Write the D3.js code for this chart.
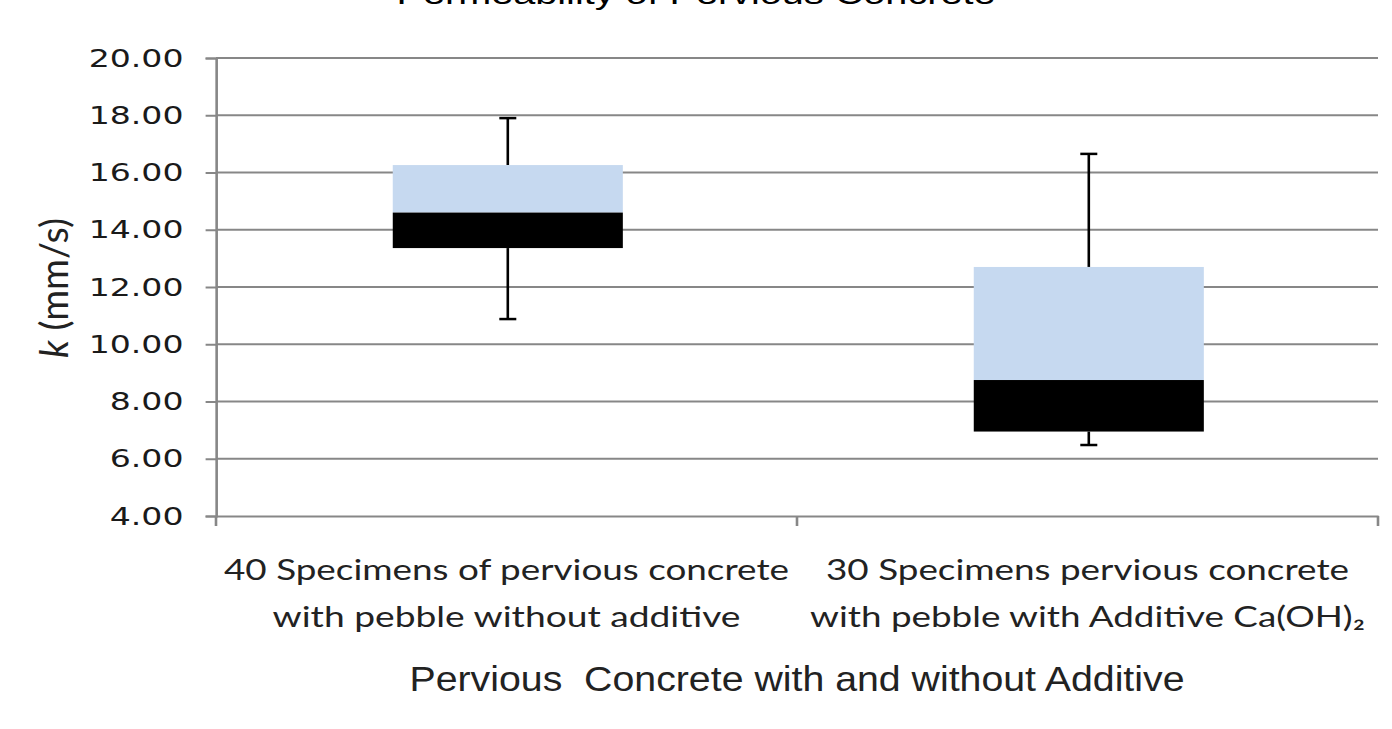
<!DOCTYPE html>
<html>
<head>
<meta charset="utf-8">
<script src="https://cdn.jsdelivr.net/npm/d3@7"></script>
<style>
  html, body { margin: 0; padding: 0; background: #fff; }
  svg { display: block; }
  text { white-space: pre; }
</style>
</head>
<body>
<div id="chart"></div>
<script>
// box plot values
const categories = ['c1', 'c2'];
const catLines = [
  ['40 Specimens of pervious concrete', 'with pebble without additive'],
  ['30 Specimens pervious concrete', 'with pebble with Additive Ca(OH)₂']
];
const minVals = [10.88, 6.48];
const q1Vals = [13.36, 6.95];
const medianVals = [14.6, 8.75];
const q3Vals = [16.26, 12.7];
const maxVals = [17.9, 16.65];
const yTicks = [4, 6, 8, 10, 12, 14, 16, 18, 20];

// the original is stretched sideways, so draw narrow and stretch the svg
const SX = 1.3;
const fullW = 1392, fullH = 729;
const W = fullW / SX;
const margin = { left: 216 / SX, right: W - 1378 / SX, top: 58, bottom: fullH - 516 };
const width = W - margin.left - margin.right;
const height = fullH - margin.top - margin.bottom;

// widths of the texts as seen in the original (screen px)
const catWidths = [[565, 468], [523, 555]];

const svg = d3.select('#chart').append('svg')
  .attr('width', fullW).attr('height', fullH)
  .attr('viewBox', `0 0 ${W} ${fullH}`)
  .attr('preserveAspectRatio', 'none');

// title, cut off at the top edge like the original
svg.append('text')
  .attr('x', 696 / SX).attr('y', 4)
  .attr('text-anchor', 'middle')
  .attr('font-family', 'Liberation Sans, Arial, sans-serif')
  .attr('font-size', 30)
  .attr('textLength', 599 / SX)
  .attr('lengthAdjust', 'spacingAndGlyphs')
  .attr('fill', '#000')
  .text('Permeability of Pervious Concrete');

const g = svg.append('g').attr('transform', `translate(${margin.left},${margin.top})`);

const x = d3.scaleBand().domain(categories).range([0, width]).paddingInner(0).paddingOuter(0);
const y = d3.scaleLinear().domain([4, 20]).range([height, 0]);

// gridlines
g.append('g').selectAll('line')
  .data(yTicks.filter(t => t > 4))
  .enter().append('line')
  .attr('x1', 0).attr('x2', width)
  .attr('y1', d => y(d)).attr('y2', d => y(d))
  .attr('stroke', '#878787').attr('stroke-width', 2);

// y axis
const yAxis = g.append('g')
  .call(d3.axisLeft(y).tickValues(yTicks).tickFormat(d3.format('.2f')).tickSize(8).tickPadding(17));
yAxis.selectAll('path, line').attr('stroke', '#878787').attr('stroke-width', 2);
yAxis.selectAll('text')
  .attr('font-family', 'DejaVu Sans, Verdana, sans-serif')
  .attr('font-size', 25.5)
  .attr('fill', '#1a1a1a');

// x axis
const xAxis = g.append('g').attr('transform', `translate(0,${height})`)
  .call(d3.axisBottom(x).tickSize(0).tickFormat(''));
xAxis.select('.domain').attr('stroke', '#878787').attr('stroke-width', 2);
xAxis.selectAll('.tick').remove();
xAxis.selectAll('.sep')
  .data([0, width / 2, width])
  .enter().append('line')
  .attr('x1', d => d).attr('x2', d => d)
  .attr('y1', 0).attr('y2', 10)
  .attr('stroke', '#878787').attr('stroke-width', 2);

// category labels
categories.forEach((c, i) => {
  catLines[i].forEach((line, j) => {
    g.append('text')
      .attr('x', x(c) + x.bandwidth() / 2)
      .attr('y', height + 64 + j * 47)
      .attr('text-anchor', 'middle')
      .attr('font-family', 'Lato, Open Sans, sans-serif')
      .attr('font-size', 29)
      .attr('textLength', catWidths[i][j] / SX)
      .attr('lengthAdjust', 'spacingAndGlyphs')
      .attr('fill', '#222')
      .text(line);
  });
});

// x axis title
g.append('text')
  .attr('x', width / 2).attr('y', height + 175)
  .attr('text-anchor', 'middle')
  .attr('font-family', 'Liberation Sans, Arial, sans-serif')
  .attr('font-size', 35)
  .attr('textLength', 775 / SX)
  .attr('lengthAdjust', 'spacingAndGlyphs')
  .attr('fill', '#222')
  .text('Pervious  Concrete with and without Additive');

// y axis title
const yt = g.append('text')
  .attr('transform', `translate(${58 / SX - margin.left},${288 - margin.top}) rotate(-90)`)
  .attr('text-anchor', 'middle')
  .attr('dominant-baseline', 'middle')
  .attr('font-family', 'Lato, Open Sans, sans-serif')
  .attr('font-size', 30)
  .attr('textLength', 140)
  .attr('lengthAdjust', 'spacingAndGlyphs')
  .attr('fill', '#222');
yt.append('tspan').attr('font-style', 'italic').text('k');
yt.append('tspan').text(' (mm/s)');

// boxes
const boxW = x.bandwidth() * 0.396;
const capW = 17 / SX;
const idx = d3.range(categories.length);
const cx = i => x(categories[i]) + x.bandwidth() / 2 + 1;

// whiskers
g.append('g').selectAll('line.up')
  .data(idx).enter().append('line')
  .attr('x1', cx).attr('x2', cx)
  .attr('y1', i => y(q3Vals[i])).attr('y2', i => y(maxVals[i]))
  .attr('stroke', '#000').attr('stroke-width', 2);
g.append('g').selectAll('line.dn')
  .data(idx).enter().append('line')
  .attr('x1', cx).attr('x2', cx)
  .attr('y1', i => y(q1Vals[i])).attr('y2', i => y(minVals[i]))
  .attr('stroke', '#000').attr('stroke-width', 2);
g.append('g').selectAll('line.capT')
  .data(idx).enter().append('line')
  .attr('x1', i => cx(i) - capW / 2).attr('x2', i => cx(i) + capW / 2)
  .attr('y1', i => y(maxVals[i])).attr('y2', i => y(maxVals[i]))
  .attr('stroke', '#000').attr('stroke-width', 2.5);
g.append('g').selectAll('line.capB')
  .data(idx).enter().append('line')
  .attr('x1', i => cx(i) - capW / 2).attr('x2', i => cx(i) + capW / 2)
  .attr('y1', i => y(minVals[i])).attr('y2', i => y(minVals[i]))
  .attr('stroke', '#000').attr('stroke-width', 2.5);

// upper part of box (median to Q3)
g.append('g').selectAll('rect')
  .data(idx).enter().append('rect')
  .attr('x', i => cx(i) - boxW / 2)
  .attr('width', boxW)
  .attr('y', i => y(q3Vals[i]))
  .attr('height', i => y(medianVals[i]) - y(q3Vals[i]))
  .attr('fill', '#c6d9f0');

// lower part of box (Q1 to median)
g.append('g').selectAll('rect')
  .data(idx).enter().append('rect')
  .attr('x', i => cx(i) - boxW / 2)
  .attr('width', boxW)
  .attr('y', i => y(medianVals[i]))
  .attr('height', i => y(q1Vals[i]) - y(medianVals[i]))
  .attr('fill', '#000');
</script>
</body>
</html>
